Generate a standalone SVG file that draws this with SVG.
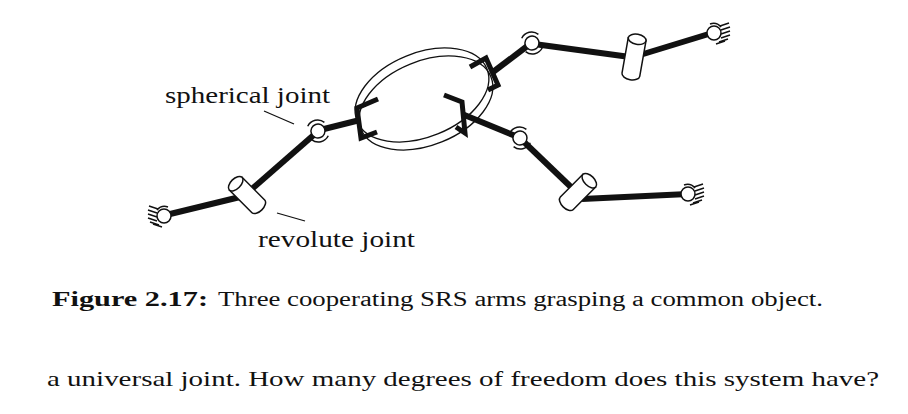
<svg xmlns="http://www.w3.org/2000/svg" width="908" height="414" viewBox="0 0 908 414">
<style>
.l{stroke:#111;stroke-width:6;fill:none;stroke-linecap:butt}
.g{stroke:#111;stroke-width:5;fill:none;stroke-linejoin:miter}
.t{stroke:#111;stroke-width:1.3;fill:none}
.j{stroke:#111;stroke-width:1.5;fill:#fff}
.a{stroke:#111;stroke-width:1.5;fill:none}
text{font-family:"Liberation Serif","DejaVu Serif",serif;fill:#111}
</style>
<defs>
<g id="sph"><path class="a" d="M-8,-8 A11,11 0 0 1 9,-6 M8,8 A11,11 0 0 1 -9,6"/><circle class="j" r="7"/></g>
<g id="gnd"><path class="a" d="M6,-7 l9,-3 M7,-3 l9,-3 M7,1 l9,-3 M7,5 l9,-3 M5,9 l9,-3 M2,11 l9,-3"/><path class="a" d="M-4,-9 A10,10 0 0 1 7,-6"/><circle class="j" r="7"/></g>
</defs>
<g id="connectors">
<path class="l" d="M166,215 L240,197"/>
<path class="l" d="M253,188 L316,133"/>
<path class="l" d="M320,130 L360,120"/>
<path class="l" d="M493,72 L530,44"/>
<path class="l" d="M534,44 L630,57"/>
<path class="l" d="M640,55 L712,33"/>
<path class="l" d="M462,114 L518,137"/>
<path class="l" d="M523,141 L572,188"/>
<path class="l" d="M582,199 L688,194"/>
</g>
<g id="object">
<ellipse class="t" cx="426" cy="103" rx="70" ry="42" transform="rotate(-22 426 103)"/>
<ellipse class="t" cx="422" cy="95" rx="70" ry="42" transform="rotate(-22 422 95)" fill="#fff"/>
</g>
<g id="grippers">
<path class="g" d="M378,99 L357,108 L361,138 L377,132"/>
<path class="g" d="M470,67 L486,58 L498,85 L488,90"/>
<path class="g" d="M444,95 L462,102 L465,133 L456,127"/>
</g>
<g id="spherical1"><use href="#sph" transform="translate(318,131) rotate(-20)"/></g>
<g id="spherical2"><use href="#sph" transform="translate(532,43) rotate(-20)"/></g>
<g id="spherical3"><use href="#sph" transform="translate(520,138) rotate(-20)"/></g>
<g id="ground1"><use href="#gnd" transform="translate(164,216) scale(-1,1)"/></g>
<g id="ground2"><use href="#gnd" transform="translate(714,33)"/></g>
<g id="ground3"><use href="#gnd" transform="translate(688,194)"/></g>
<g id="revolute1" transform="translate(247,195) rotate(45)">
<path class="j" d="M-16,-9 L16,-9 A5,9 0 0 1 16,9 L-16,9 Z"/><ellipse class="j" cx="-16" cy="0" rx="5" ry="9"/>
</g>
<g id="revolute2" transform="translate(634,57) rotate(-80)">
<path class="j" d="M-18,-9 L18,-9 A5,9 0 0 1 18,9 L-18,9 Z" transform="scale(-1,1)"/><ellipse class="j" cx="18" cy="0" rx="5" ry="9"/>
</g>
<g id="revolute3" transform="translate(578,192) rotate(-45)">
<path class="j" d="M-16,-9 L16,-9 A5,9 0 0 1 16,9 L-16,9 Z" transform="scale(-1,1)"/><ellipse class="j" cx="16" cy="0" rx="5" ry="9"/>
</g>
<g id="labels">
<text x="165" y="103" font-size="23" textLength="165" lengthAdjust="spacingAndGlyphs">spherical joint</text>
<path class="t" d="M264,111 L294,124"/>
<text x="258" y="247" font-size="23" textLength="157" lengthAdjust="spacingAndGlyphs">revolute joint</text>
<path class="t" d="M277,213 L305,221"/>
<text x="52" y="306" font-size="20"><tspan font-weight="bold" textLength="156" lengthAdjust="spacingAndGlyphs">Figure 2.17:</tspan><tspan x="218" textLength="605" lengthAdjust="spacingAndGlyphs">Three cooperating SRS arms grasping a common object.</tspan></text>
<text x="47" y="386" font-size="22" textLength="832" lengthAdjust="spacingAndGlyphs">a universal joint. How many degrees of freedom does this system have?</text>
</g>
</svg>
